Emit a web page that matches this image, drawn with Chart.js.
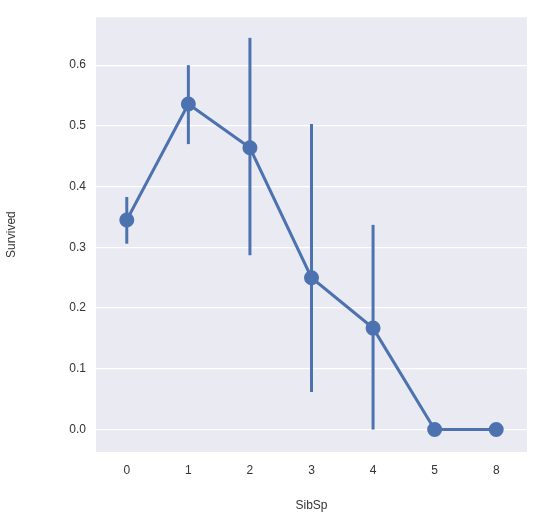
<!DOCTYPE html>
<html><head><style>html,body{margin:0;background:#fff}</style>
<script src="https://cdn.jsdelivr.net/npm/chart.js"></script></head>
<body><div style="width:552px;height:517px"><canvas id="c"></canvas></div>
<script>
const categories=["0","1","2","3","4","5","8"];
const survived=[0.345,0.536,0.464,0.25,0.167,0,0];
const ciLow=[0.306,0.470,0.287,0.062,0.0,0,0];
const ciHigh=[0.383,0.600,0.645,0.503,0.337,0,0];
const yTicks=[0,0.1,0.2,0.3,0.4,0.5,0.6];
const color="#4c72b0";
const bg={id:"bg",beforeDraw(c){const a=c.chartArea,x=c.ctx;x.save();x.fillStyle="#eaeaf2";x.fillRect(a.left,a.top,a.right-a.left,a.bottom-a.top);x.restore();}};
const err={id:"err",afterDatasetsDraw(c){const x=c.ctx,xs=c.scales.x,ys=c.scales.y;x.save();x.strokeStyle=color;x.lineWidth=3;
categories.forEach((k,i)=>{if(ciHigh[i]===ciLow[i])return;const px=xs.getPixelForValue(i);x.beginPath();x.moveTo(px,ys.getPixelForValue(ciLow[i]));x.lineTo(px,ys.getPixelForValue(ciHigh[i]));x.stroke();});x.restore();}};
const font={family:"Liberation Sans, Arial, sans-serif",size:12};
new Chart(document.getElementById("c"),{type:"line",
data:{labels:categories,datasets:[{data:survived,borderColor:color,backgroundColor:color,borderWidth:3,pointRadius:6,pointHoverRadius:6}]},
options:{responsive:true,maintainAspectRatio:false,animation:false,
layout:{padding:{top:10,right:25,left:0,bottom:0}},
plugins:{legend:{display:false},tooltip:{enabled:false}},
scales:{
x:{offset:true,grid:{display:false},border:{display:false},ticks:{color:"#333",font},
title:{display:true,text:"SibSp",color:"#333",font,padding:{top:4}},afterFit(s){s.height=65;}},
y:{min:-0.037,max:0.679,border:{display:false},grid:{color:"#fff",lineWidth:1.2,drawTicks:false},
afterBuildTicks(s){s.ticks=yTicks.map(v=>({value:v}));},
ticks:{color:"#333",font,padding:10,callback:v=>v.toFixed(1)},
title:{display:true,text:"Survived",color:"#333",font,padding:{bottom:8}},afterFit(s){s.width=96;}}
}},plugins:[bg,err]});
</script></body></html>
